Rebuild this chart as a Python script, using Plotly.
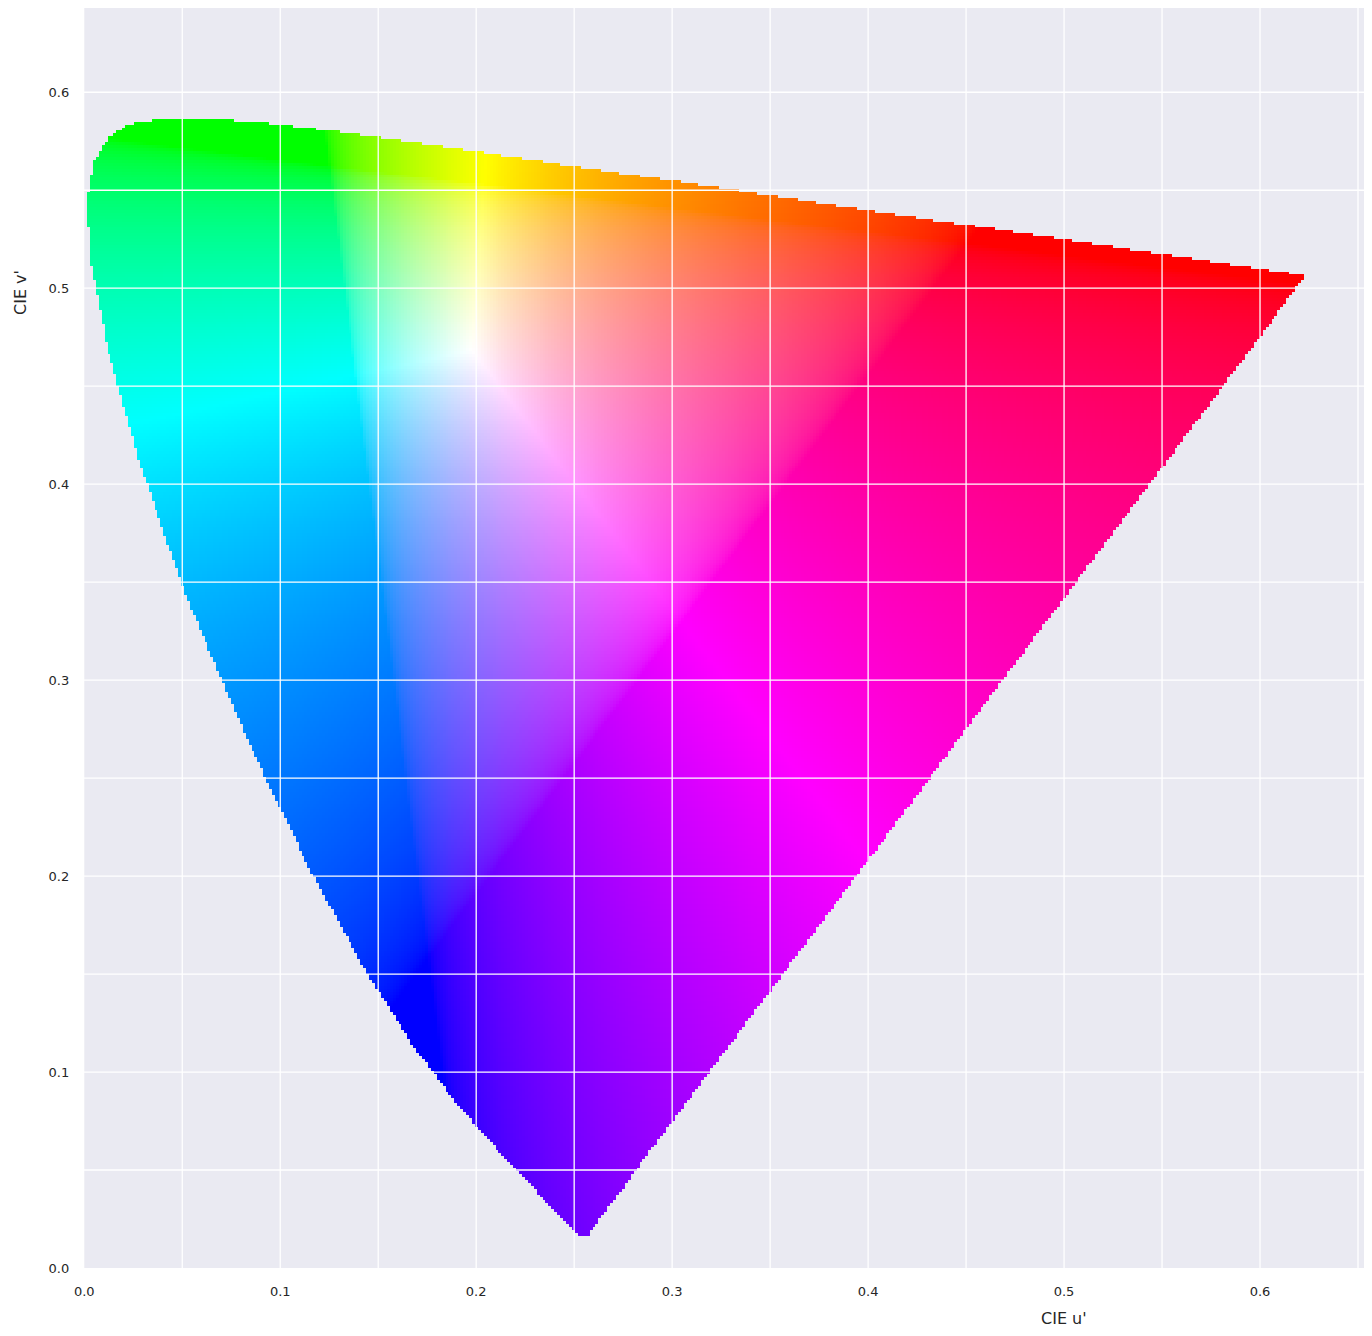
import numpy as np
import plotly.graph_objects as go

# CIE 1931 spectral locus chromaticities (x, y), 380..700 nm
wl = [380,385,390,395,400,405,410,415,420,425,430,435,440,445,450,455,460,465,470,475,480,485,490,495,500,505,510,515,520,525,530,535,540,545,550,555,560,565,570,575,580,585,590,595,600,605,610,615,620,625,630,640,650,660,700]
loc_x = [0.1741,0.1740,0.1738,0.1736,0.1733,0.1730,0.1726,0.1721,0.1714,0.1703,0.1689,0.1669,0.1644,0.1611,0.1566,0.1510,0.1440,0.1355,0.1241,0.1096,0.0913,0.0687,0.0454,0.0235,0.0082,0.0039,0.0139,0.0389,0.0743,0.1142,0.1547,0.1929,0.2296,0.2658,0.3016,0.3373,0.3731,0.4087,0.4441,0.4788,0.5125,0.5448,0.5752,0.6029,0.6270,0.6482,0.6658,0.6801,0.6915,0.7006,0.7079,0.7190,0.7260,0.7300,0.7347]
loc_y = [0.0050,0.0050,0.0049,0.0049,0.0048,0.0048,0.0048,0.0048,0.0051,0.0058,0.0069,0.0086,0.0109,0.0138,0.0177,0.0227,0.0297,0.0399,0.0578,0.0868,0.1327,0.2007,0.2950,0.4127,0.5384,0.6548,0.7502,0.8120,0.8338,0.8262,0.8059,0.7816,0.7543,0.7243,0.6923,0.6589,0.6245,0.5896,0.5547,0.5202,0.4866,0.4544,0.4242,0.3965,0.3725,0.3514,0.3340,0.3197,0.3083,0.2993,0.2920,0.2809,0.2740,0.2700,0.2653]
x_ticks = [0.0, 0.1, 0.2, 0.3, 0.4, 0.5, 0.6]
y_ticks = [0.0, 0.1, 0.2, 0.3, 0.4, 0.5, 0.6]

lx = np.array(loc_x); ly = np.array(loc_y)
d = -2*lx + 12*ly + 3
pu = 4*lx/d; pv = 9*ly/d

step = 0.0015
U0, U1, V0, V1 = 0.0, 0.657, 0.0, 0.643
us = np.arange(U0, U1, step) + step/2
vs = np.arange(V0, V1, step) + step/2
UU, VV = np.meshgrid(us, vs)

inside = np.zeros(UU.shape, bool)
n = len(pu)
for i in range(n):
    j = (i - 1) % n
    xi, yi, xj, yj = pu[i], pv[i], pu[j], pv[j]
    cond = ((yi > VV) != (yj > VV))
    with np.errstate(divide='ignore', invalid='ignore'):
        xint = (xj - xi) * (VV - yi) / (yj - yi + 1e-12) + xi
    inside ^= cond & (UU < xint)

den = 6*UU - 16*VV + 12
x = 9*UU/den; y = 4*VV/den
X = x/y; Y = np.ones_like(x); Z = (1-x-y)/y
M = np.array([[3.2406,-1.5372,-0.4986],[-0.9689,1.8758,0.0415],[0.0557,-0.2040,1.0570]])
rgb = np.stack([M[k,0]*X + M[k,1]*Y + M[k,2]*Z for k in range(3)], -1)
rgb = np.clip(rgb, 0, None)
mx = rgb.max(-1, keepdims=True); mx[mx == 0] = 1
rgb = rgb/mx
rgb = np.where(rgb <= 0.0031308, 12.92*rgb, 1.055*np.power(rgb, 1/2.4) - 0.055)
img = np.zeros(UU.shape + (4,))
img[..., :3] = np.clip(rgb*255, 0, 255)
img[..., 3] = np.where(inside, 1, 0)

fig = go.Figure(go.Image(z=img, colormodel="rgba", x0=U0+step/2, dx=step, y0=V0+step/2, dy=step, hoverinfo="skip"))

shapes = []
g = 0.05
while g < 0.66:
    shapes.append(dict(type="line", x0=g, x1=g, y0=0, y1=1, xref="x", yref="paper", line=dict(color="white", width=1.3), layer="above"))
    shapes.append(dict(type="line", y0=g, y1=g, x0=0, x1=1, yref="y", xref="paper", line=dict(color="white", width=1.3), layer="above"))
    g = round(g + 0.05, 2)

fig.update_layout(
    width=1372, height=1336, margin=dict(l=76, r=8, t=0, b=76, autoexpand=False),
    plot_bgcolor="#EAEAF2", paper_bgcolor="white", shapes=shapes,
    font=dict(family="DejaVu Sans", size=13, color="#262626"),
    xaxis=dict(range=[U0, U1], tickvals=x_ticks, ticktext=[f"{t:.1f}" for t in x_ticks], showgrid=False, zeroline=False, ticks="", ticklabelstandoff=14),
    yaxis=dict(range=[V0, V1], tickvals=y_ticks, ticktext=[f"{t:.1f}" for t in y_ticks], showgrid=False, zeroline=False, ticks="", ticklabelstandoff=14),
    annotations=[
        dict(text="CIE u'", x=0.5/U1, y=-0.0397, xref="paper", yref="paper", xanchor="center", yanchor="middle", showarrow=False, font=dict(size=16)),
        dict(text="CIE v'", x=-0.0497, y=0.7746, xref="paper", yref="paper", xanchor="center", yanchor="middle", showarrow=False, textangle=-90, font=dict(size=16)),
    ],
)
fig.write_html("out.html")
